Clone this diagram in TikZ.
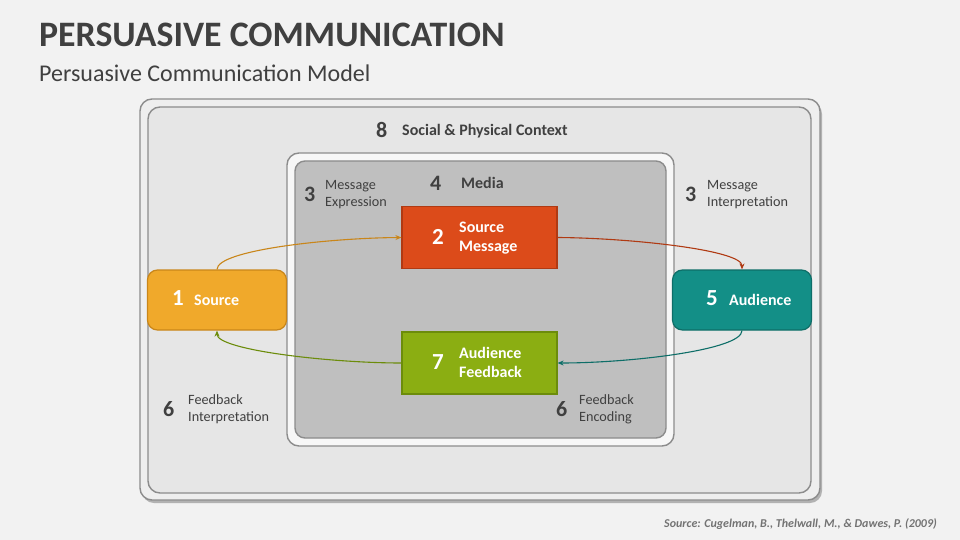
\documentclass[tikz,border=0pt]{standalone}
\usepackage{fontspec}
\setmainfont{Carlito}
\usetikzlibrary{arrows.meta}
\definecolor{bg}{HTML}{F2F2F2}
\definecolor{frameA}{HTML}{EEEEEE}
\definecolor{frameB}{HTML}{E6E6E6}
\definecolor{mediaA}{HTML}{F7F7F7}
\definecolor{mediaB}{HTML}{BFBFBF}
\definecolor{edgegray}{HTML}{8C8C8C}
\definecolor{txt}{HTML}{404040}
\definecolor{srcF}{HTML}{F0A92B}
\definecolor{srcD}{HTML}{C9861A}
\definecolor{msgF}{HTML}{DC4B1A}
\definecolor{msgD}{HTML}{B03A13}
\definecolor{audF}{HTML}{138F87}
\definecolor{audD}{HTML}{0E6E68}
\definecolor{fbF}{HTML}{8BAE12}
\definecolor{fbD}{HTML}{6C8C0B}
\tikzset{
  frame/.style={draw=edgegray, line width=1.4pt, rounded corners=12pt},
  boxr/.style={rounded corners=10pt, line width=1.2pt, minimum width=139pt, minimum height=60pt},
  boxs/.style={line width=1.2pt, minimum width=155pt, minimum height=62pt},
  lbl/.style={text=txt, font=\fontsize{14.2}{17}\selectfont, align=left, anchor=west, inner sep=0pt},
  num/.style={text=txt, font=\bfseries\fontsize{22}{24}\selectfont, anchor=west, inner sep=0pt},
  head/.style={anchor=west, inner sep=0pt, text=txt, font=\bfseries\fontsize{16}{18}\selectfont},
  wnum/.style={anchor=west, inner sep=0pt, text=white, font=\bfseries\fontsize{23}{24}\selectfont},
  wtxt/.style={anchor=west, inner sep=0pt, text=white, align=left, font=\bfseries\fontsize{16}{19}\selectfont},
  flow/.style={line width=1.1pt, -{Stealth[length=6pt,width=5pt]}},
}
\begin{document}
\begin{tikzpicture}[x=1pt,y=-1pt]
\fill[bg] (0,0) rectangle (960,540);
\useasboundingbox (0,0) rectangle (960,540);
% title
\node[anchor=west, inner sep=0pt, text=txt, font=\bfseries\fontsize{35.8}{38}\selectfont] (title) at (39,35) {PERSUASIVE COMMUNICATION};
\node[anchor=west, inner sep=0pt, text=txt, font=\fontsize{24}{26}\selectfont] (subtitle) at (39,73) {Persuasive Communication Model};
% outer context frame
\fill[black!30, rounded corners=12pt] (142,102) rectangle (822,503);
\filldraw[frame, fill=frameA] (140,99) rectangle (820,500);
\filldraw[frame, fill=frameB] (148,107) rectangle (811,493);
% media frame
\filldraw[frame, fill=mediaA] (287,153) rectangle (674,446);
\filldraw[frame, fill=mediaB, rounded corners=10pt] (295,161) rectangle (666,438);
% headings
\node[num] (n8) at (376,130) {8};
\node[head] (ctx) at (402,131) {Social \& Physical Context};
\node[num] (n4) at (430,183) {4};
\node[head] (media) at (461,183) {Media};
\node[num] (n3a) at (304,194) {3};
\node[lbl] (me) at (325,195) {Message\\Expression};
\node[num] (n3b) at (685,194) {3};
\node[lbl] (mi) at (707,195) {Message\\Interpretation};
\node[num] (n6a) at (163,409) {6};
\node[lbl] (fi) at (188,409.5) {Feedback\\Interpretation};
\node[num] (n6b) at (556,409) {6};
\node[lbl] (fe) at (579,409.5) {Feedback\\Encoding};
% main boxes
\node[boxr, draw=srcD, fill=srcF] (source) at (217,300) {};
\node[wnum] (n1) at (172,298) {1};
\node[wtxt] (sl) at (194,300) {Source};
\node[boxr, draw=audD, fill=audF] (aud) at (742,300) {};
\node[wnum] (n5) at (706,298) {5};
\node[wtxt] (al) at (729,300) {Audience};
\node[boxs, draw=msgD, fill=msgF] (msg) at (479.5,237.5) {};
\node[wnum] (n2) at (432,237) {2};
\node[wtxt] (ml) at (459,238.5) {Source\\Message};
\node[boxs, draw=fbD, fill=fbF] (fb) at (479.5,363) {};
\node[wnum] (n7) at (432,362) {7};
\node[wtxt] (fl) at (459,362) {Audience\\Feedback};
% flows
\draw[flow, draw=srcD] (source.north) .. controls (217,250) and (330,238) .. (msg.west);
\draw[flow, draw=msgD] (msg.east) .. controls (630,238) and (742,250) .. (aud.north);
\draw[flow, draw=audD] (aud.south) .. controls (742,350) and (630,363) .. (fb.east);
\draw[flow, draw=fbD] (fb.west) .. controls (330,363) and (217,350) .. (source.south);
% citation
\node[anchor=east, inner sep=0pt, text=black!55, font=\bfseries\itshape\fontsize{12}{14}\selectfont] (cite) at (937,524) {Source: Cugelman, B., Thelwall, M., \& Dawes, P. (2009)};
\end{tikzpicture}
\end{document}
